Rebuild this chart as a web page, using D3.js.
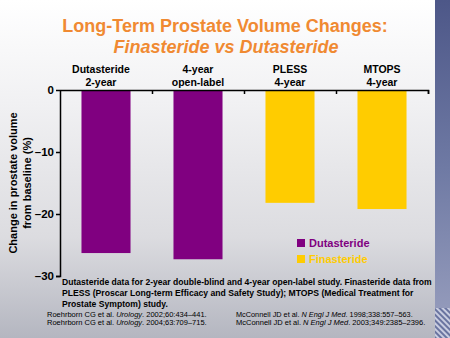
<!DOCTYPE html>
<html><head><meta charset="utf-8">
<script src="https://cdn.jsdelivr.net/npm/d3@7"></script>
<style>body{margin:0;}svg{display:block;font-family:"Liberation Sans",Arial,sans-serif;}</style>
</head><body>
<script>
const categories = ["Dutasteride|2-year","4-year|open-label","PLESS|4-year","MTOPS|4-year"];
const values = [-26.3,-27.3,-18.2,-19.2];
const drugs = ["Dutasteride","Dutasteride","Finasteride","Finasteride"];
const legendItems = ["Dutasteride","Finasteride"];
const yTicks = [0,-10,-20,-30];
const titleLines = ["Long-Term Prostate Volume Changes:","Finasteride vs Dutasteride"];
const yLabelLines = ["Change in prostate volume","from baseline (%)"];
const footLines = ["Dutasteride data for 2-year double-blind and 4-year open-label study. Finasteride data from","PLESS (Proscar Long-term Efficacy and Safety Study); MTOPS (Medical Treatment for","Prostate Symptom) study."];
const refs = [
 [["Roehrborn CG et al. ",0],["Urology",1],[". 2002;60:434–441.",0]],
 [["Roehrborn CG et al. ",0],["Urology",1],[". 2004;63:709–715.",0]],
 [["McConnell JD et al. ",0],["N Engl J Med",1],[". 1998;338:557–563.",0]],
 [["McConnell JD et al. ",0],["N Engl J Med",1],[". 2003;349:2385–2396.",0]]
];

const W=450,H=338;
const svg=d3.select("body").append("svg").attr("width",W).attr("height",H);
const defs=svg.append("defs");
const bg=defs.append("linearGradient").attr("id","bg").attr("x1",0).attr("y1",0).attr("x2",0).attr("y2",1);
bg.append("stop").attr("offset","0").attr("stop-color","#ffffff");
bg.append("stop").attr("offset","0.3").attr("stop-color","#f1f1f3");
bg.append("stop").attr("offset","0.7").attr("stop-color","#dcdce0");
bg.append("stop").attr("offset","1").attr("stop-color","#b4b6c0");
const side=defs.append("linearGradient").attr("id","side").attr("x1",0).attr("y1",0).attr("x2",0).attr("y2",1);
side.append("stop").attr("offset","0").attr("stop-color","#4d5788");
side.append("stop").attr("offset","0.5").attr("stop-color","#6f7aa4");
side.append("stop").attr("offset","1").attr("stop-color","#9aa0bf");
const hatch=defs.append("pattern").attr("id","hatch").attr("width",4).attr("height",4)
 .attr("patternUnits","userSpaceOnUse").attr("patternTransform","rotate(-45)");
hatch.append("rect").attr("width",4).attr("height",4).attr("fill","#c8cce0");
hatch.append("rect").attr("width",2).attr("height",4).attr("fill","#6a74a0");

svg.append("rect").attr("width",W).attr("height",H).attr("fill","url(#bg)");
svg.append("rect").attr("x",435).attr("width",15).attr("height",H).attr("fill","url(#side)");
svg.append("rect").attr("x",435).attr("y",308).attr("width",15).attr("height",30).attr("fill","url(#hatch)");

// title
svg.append("text").attr("x",225).attr("y",32).attr("text-anchor","middle")
 .attr("font-size",18).attr("font-weight","bold").attr("fill","#f08a32").text(titleLines[0]);
svg.append("text").attr("x",226).attr("y",53).attr("text-anchor","middle")
 .attr("font-size",18).attr("font-weight","bold").attr("font-style","italic").attr("fill","#f08a32").text(titleLines[1]);

const color=d3.scaleOrdinal().domain(legendItems).range(["#800080","#ffcc00"]);
const x=d3.scaleBand().domain(categories).range([60,428]).paddingInner(0.467).paddingOuter(0.2335);
const y=d3.scaleLinear().domain([-30,0]).range([276,90]);

svg.selectAll("rect.bar").data(values).enter().append("rect").attr("class","bar")
 .attr("x",(d,i)=>x(categories[i])).attr("width",x.bandwidth())
 .attr("y",y(0)).attr("height",d=>y(d)-y(0)).attr("fill",(d,i)=>color(drugs[i]));

// y axis
const yAxis=d3.axisLeft(y).tickValues(yTicks).tickSize(4).tickFormat(d=>d===0?"0":"\u2013"+Math.abs(d));
const ya=svg.append("g").attr("transform","translate(60,0)").call(yAxis);
ya.select(".domain").attr("stroke","#000").attr("stroke-width",1.5).attr("d","M-4,276.5H0.5V90");
ya.selectAll(".tick line").attr("stroke","#000").attr("stroke-width",1.5);
ya.selectAll(".tick text").attr("font-size",11.5).attr("font-weight","bold").attr("fill","#000").attr("font-family","Liberation Sans, Arial, sans-serif").attr("x",-6);

// x axis at top with boundary ticks
const xb=d3.scaleLinear().domain([0,4]).range([60,428]);
const xa=svg.append("g").attr("transform","translate(0,90)").call(d3.axisBottom(xb).tickValues([1,2,3,4]).tickSize(4).tickFormat(""));
xa.select(".domain").attr("stroke","#000").attr("stroke-width",1.5).attr("d","M60,0.5H428.5V4");
xa.selectAll(".tick line").attr("stroke","#000").attr("stroke-width",1.5);

// category labels
categories.forEach((c,i)=>{
 const cx=x(c)+x.bandwidth()/2-(i===0?5:0);
 c.split("|").forEach((t,j)=>{
  svg.append("text").attr("x",cx).attr("y",73+j*13).attr("text-anchor","middle")
   .attr("font-size",10.5).attr("font-weight","bold").attr("fill","#000").text(t);
 });
});

// y label
yLabelLines.forEach((t,j)=>{
 svg.append("text").attr("transform",`translate(${17+j*14},183) rotate(-90)`).attr("text-anchor","middle")
  .attr("font-size",11).attr("font-weight","bold").attr("fill","#000").text(t);
});

// legend
legendItems.forEach((t,i)=>{
 svg.append("rect").attr("x",297).attr("y",239+i*16).attr("width",8).attr("height",8).attr("fill",color(t));
 svg.append("text").attr("x",309).attr("y",247+i*16).attr("font-size",11).attr("font-weight","bold").attr("fill",color(t)).text(t);
});

// helper: horizontally scale a text to a target width
function fit(sel,x0,y0,w){
 const n=sel.node().getComputedTextLength();
 const s=Math.min(1,w/n);
 sel.attr("transform",`translate(${x0},${y0}) scale(${s},1)`);
}
// footnote
const footW=[370,352,106];
footLines.forEach((t,i)=>{
 const tx=svg.append("text").attr("font-size",9.5).attr("font-weight","bold").attr("fill","#000").text(t);
 fit(tx,62,285+i*11,footW[i]);
});
const refPos=[[47,317,166],[47,325,166],[236,317,177],[236,325,195]];
refs.forEach((r,i)=>{
 const tx=svg.append("text").attr("font-size",7.5).attr("fill","#000");
 r.forEach(s=>tx.append("tspan").attr("font-style",s[1]?"italic":"normal").text(s[0]));
 fit(tx,refPos[i][0],refPos[i][1],refPos[i][2]);
});
</script>
</body></html>
